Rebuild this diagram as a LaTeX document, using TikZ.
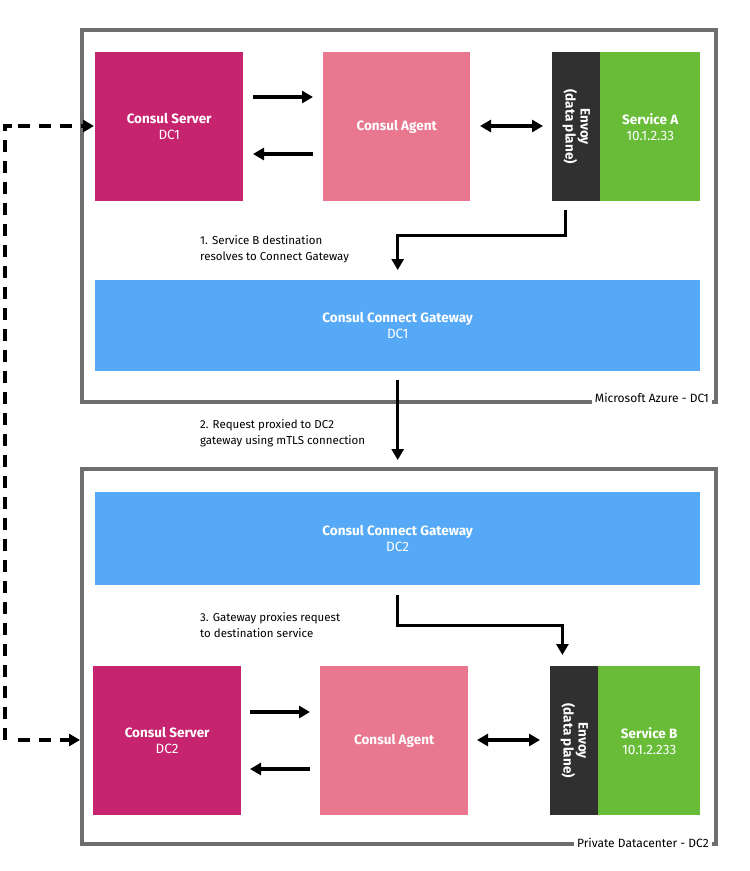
\documentclass[tikz,border=0pt]{standalone}
\usepackage{fontspec}
\setmainfont{Fira Sans}
\usetikzlibrary{arrows.meta}
\definecolor{srv}{HTML}{C6246E}
\definecolor{agt}{HTML}{E8778F}
\definecolor{env}{HTML}{303030}
\definecolor{svc}{HTML}{68BC37}
\definecolor{gw}{HTML}{55A9F6}
\definecolor{brd}{HTML}{6E6E6E}
\begin{document}
\begin{tikzpicture}[x=1pt,y=-1pt,
  box/.style={draw=none,minimum width=#1,text=white,font=\fontsize{13.5}{16}\selectfont\bfseries,align=center,inner sep=0},
  frame/.style={draw=brd,line width=3.5pt},
  lbl/.style={fill=white,font=\fontsize{12}{14}\selectfont,inner sep=3pt,anchor=east},
  note/.style={font=\fontsize{11.5}{16}\selectfont,align=left,anchor=west,inner sep=0},
  tip/.style={-{Triangle[length=11pt,width=12pt]}},
  arr/.style={line width=3.5pt,tip},
  darr/.style={line width=3.5pt,{Triangle[length=11pt,width=12pt]}-{Triangle[length=11pt,width=12pt]}},
  dsh/.style={line width=4pt,dash pattern=on 12pt off 9pt}]
\useasboundingbox (0,0) rectangle (750,871);
% frames
\node[frame,minimum width=634,minimum height=372,anchor=north west,inner sep=0] (f1) at (80,28) {};
\node[frame,minimum width=634,minimum height=375,anchor=north west,inner sep=0] (f2) at (80,467) {};
\node[lbl] (l1) at (712,398) {Microsoft Azure - DC1};
\node[lbl] (l2) at (712,843) {Private Datacenter - DC2};
% DC1
\node[box=148,minimum height=149,fill=srv,anchor=north west] (s1) at (95,52) {Consul Server\\\mdseries DC1};
\node[box=147,minimum height=149,fill=agt,anchor=north west] (a1) at (323,52) {Consul Agent};
\node[box=48,minimum height=149,fill=env,anchor=north west] (e1) at (552,52) {};
\node[rotate=-90,text=white,font=\fontsize{13.5}{15}\selectfont\bfseries,align=center] (e1t) at (e1.center) {Envoy\\(data plane)};
\node[box=100,minimum height=149,fill=svc,anchor=north west] (v1) at (600,52) {Service A\\\mdseries 10.1.2.33};
\node[box=605,minimum height=91,fill=gw,anchor=north west] (g1) at (95,280) {Consul Connect Gateway\\\mdseries DC1};
% DC2
\node[box=605,minimum height=93,fill=gw,anchor=north west] (g2) at (95,492) {Consul Connect Gateway\\\mdseries DC2};
\node[box=148,minimum height=149,fill=srv,anchor=north west] (s2) at (93,666) {Consul Server\\\mdseries DC2};
\node[box=148,minimum height=149,fill=agt,anchor=north west] (a2) at (320,666) {Consul Agent};
\node[box=48,minimum height=149,fill=env,anchor=north west] (e2) at (550,666) {};
\node[rotate=-90,text=white,font=\fontsize{13.5}{15}\selectfont\bfseries,align=center] (e2t) at (e2.center) {Envoy\\(data plane)};
\node[box=102,minimum height=149,fill=svc,anchor=north west] (v2) at (598,666) {Service B\\\mdseries 10.1.2.233};
% arrows DC1
\draw[arr] (253,97) -- (313,97);
\draw[arr] (313,154) -- (253,154);
\draw[darr] (480,126) -- (543,126);
\draw[arr] ([shift={(-35,9)}]e1.south east) -- ++(0,25) -| ([yshift=10]g1.north);
\draw[arr] ([yshift=-9]g1.south) -- ([yshift=32]g2.north);
% arrows DC2
\draw[arr] (250,712) -- (310,712);
\draw[arr] (310,769) -- (250,769);
\draw[darr] (477,740) -- (540,740);
\draw[arr] ([yshift=-10]g2.south) -- ++(0,30) -| ([shift={(-36,-11)}]e2.north east);
% notes
\node[note] (n1) at (200,249) {1. Service B destination\\resolves to Connect Gateway};
\node[note] (n2) at (200,433) {2. Request proxied to DC2\\gateway using mTLS connection};
\node[note] (n3) at (200,625) {3. Gateway proxies request\\to destination service};
% dashed
\coordinate (d1) at (12,126);
\coordinate (d2) at (12,740);
\draw[dsh] (d1) -- (5,126) -- (5,740) -- (d2);
\draw[dsh,tip] ([xshift=6]d1) -- ([xshift=-1]s1.west |- d1);
\draw[dsh,tip] ([xshift=6]d2) -- ([xshift=-13]s2.west |- d2);
\end{tikzpicture}
\end{document}
